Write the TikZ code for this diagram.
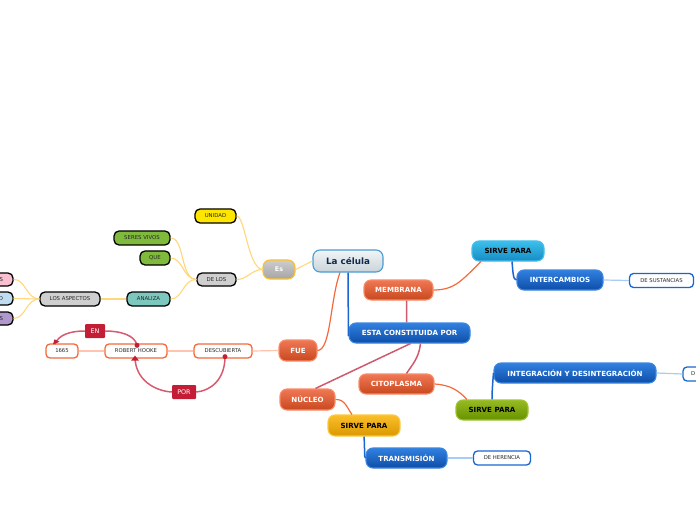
\documentclass[tikz,border=0pt]{standalone}
\usepackage{fontspec}
\setmainfont{DejaVu Sans}
\definecolor{cOrg}{HTML}{F4693A}
\definecolor{cBlu}{HTML}{1A66D0}
\definecolor{cCri}{HTML}{C41E36}
\definecolor{cYel}{HTML}{FFD77A}
\definecolor{rootD}{HTML}{4A9BD4}
\definecolor{rootT}{HTML}{F2F5F7}
\definecolor{rootB}{HTML}{C8D4DA}
\definecolor{rootX}{HTML}{0F2A4A}
\definecolor{orgD}{HTML}{F88C69}
\definecolor{orgT}{HTML}{F07855}
\definecolor{orgB}{HTML}{C8481E}
\definecolor{bluD}{HTML}{3C86E0}
\definecolor{bluT}{HTML}{3080E0}
\definecolor{bluB}{HTML}{0E4EA8}
\definecolor{cyaD}{HTML}{46BEEB}
\definecolor{cyaT}{HTML}{3CC0EC}
\definecolor{cyaB}{HTML}{168CC4}
\definecolor{grnD}{HTML}{A0C432}
\definecolor{grnT}{HTML}{96BA22}
\definecolor{grnB}{HTML}{689200}
\definecolor{ambD}{HTML}{FCC83C}
\definecolor{ambT}{HTML}{FBBF2A}
\definecolor{ambB}{HTML}{DA9800}
\definecolor{gryD}{HTML}{FCC02C}
\definecolor{gryT}{HTML}{CDCDCD}
\definecolor{gryB}{HTML}{A5A5A5}
\definecolor{txtS}{HTML}{282828}
\definecolor{fYel}{HTML}{FFE600}
\definecolor{fGrn}{HTML}{7FBA3C}
\definecolor{fGry}{HTML}{CFCFCF}
\definecolor{fTea}{HTML}{7CC8BE}
\definecolor{fPnk}{HTML}{F8C0D0}
\definecolor{fLbl}{HTML}{C0DCF0}
\definecolor{fPur}{HTML}{B098CC}
\definecolor{lCit}{HTML}{CD5A6E}
\definecolor{lPal}{HTML}{FFC3AF}
\definecolor{lQbl}{HTML}{A5CDF5}
\definecolor{lRel}{HTML}{D75A6E}
\tikzset{
  basebox/.style={rounded corners=7bp,inner sep=0pt,align=center},
  bigbox/.style={basebox,line width=1.1bp,font=\bfseries\fontsize{7.1}{8}\selectfont},
  rootbox/.style={bigbox,draw=rootD,top color=rootT,bottom color=rootB,text=rootX,font=\bfseries\fontsize{8.8}{10}\selectfont},
  orgbox/.style={bigbox,draw=orgD,top color=orgT,bottom color=orgB,text=white},
  blubox/.style={bigbox,draw=bluD,top color=bluT,bottom color=bluB,text=white},
  cyabox/.style={bigbox,draw=cyaD,top color=cyaT,bottom color=cyaB,text=black},
  grnbox/.style={bigbox,draw=grnD,top color=grnT,bottom color=grnB,text=black},
  ambbox/.style={bigbox,draw=ambD,top color=ambT,bottom color=ambB,text=black},
  grybox/.style={bigbox,draw=gryD,top color=gryT,bottom color=gryB,text=white},
  smallbox/.style={basebox,draw=black,line width=1.3bp,rounded corners=5bp,text=txtS,font=\fontsize{5.4}{6}\selectfont},
  whitebox/.style={basebox,fill=white,line width=1.3bp,rounded corners=4bp,text=txtS,font=\fontsize{5.3}{6}\selectfont},
  wo/.style={whitebox,draw=cOrg},
  wb/.style={whitebox,draw=cBlu},
  tagbox/.style={basebox,fill=cCri,rounded corners=1bp,text=white,font=\fontsize{6.4}{7}\selectfont},
  dims/.style 2 args={minimum width=#1bp,minimum height=#2bp},
  yl/.style={draw=cYel,line width=1.1bp},
  ol/.style={draw=cOrg,line width=1.2bp},
  bl/.style={draw=cBlu,line width=1.5bp},
  cl/.style={draw=lCit,line width=1.5bp},
  pl/.style={draw=lPal,line width=1.2bp},
  ql/.style={draw=lQbl,line width=1.2bp},
  rl/.style={draw=lRel,line width=1.5bp},
  reldot/.style={circle,fill=cCri,inner sep=0pt,minimum size=5bp}
}
\begin{document}
\begin{tikzpicture}[x=1bp,y=-1bp]
\useasboundingbox (0,0) rectangle (696,520);
\clip (0,0) rectangle (696,520);
% nodes
\node[rootbox,dims={70}{22}] (root) at (348,261) {La célula};
\node[grybox,dims={32}{19}] (es) at (279,269.5) {\fontsize{6.4}{7}\selectfont Es};
\node[smallbox,dims={41}{14},fill=fYel] (unidad) at (215.5,216) {UNIDAD};
\node[smallbox,dims={56}{14},fill=fGrn] (seres) at (142,238) {SERES VIVOS};
\node[smallbox,dims={30}{14},fill=fGrn] (que) at (155,258) {QUE};
\node[smallbox,dims={39}{13},fill=fGry] (delos) at (216.5,279.5) {DE LOS};
\node[smallbox,dims={43}{14},fill=fTea] (analiza) at (148.5,299) {ANALIZA};
\node[smallbox,dims={60}{14},fill=fGry] (aspectos) at (70,299) {LOS ASPECTOS};
\node[smallbox,dims={30}{13},fill=fPnk,text width=26bp,align=right] (pink) at (-2,279.5) {S\hspace*{8bp}};
\node[smallbox,dims={30}{13},fill=fLbl,text width=26bp,align=right] (lblue) at (-2,298.5) {D\hspace*{8bp}};
\node[smallbox,dims={30}{13},fill=fPur,text width=26bp,align=right] (purple) at (-2,318.5) {S\hspace*{8bp}};
\node[wo,dims={32}{14}] (y1665) at (62,351) {1665};
\node[wo,dims={62}{14}] (hooke) at (136,351) {ROBERT HOOKE};
\node[wo,dims={58}{14}] (desc) at (223,351) {DESCUBIERTA};
\node[orgbox,dims={38}{21}] (fue) at (298,350.5) {FUE};
\node[tagbox,dims={20}{14}] (en) at (95,331) {EN};
\node[tagbox,dims={24}{14}] (por) at (184,392) {POR};
\node[orgbox,dims={69}{20}] (memb) at (398.5,290) {MEMBRANA};
\node[blubox,dims={121}{20}] (esta) at (409.5,333) {ESTA CONSTITUIDA POR};
\node[orgbox,dims={55}{21}] (nuc) at (307.5,399.5) {NÚCLEO};
\node[orgbox,dims={75}{20}] (cito) at (396.5,384) {CITOPLASMA};
\node[ambbox,dims={72}{21}] (sirveA) at (364,425.5) {SIRVE PARA};
\node[blubox,dims={81}{20}] (trans) at (406.5,458) {TRANSMISIÓN};
\node[wb,dims={57}{14}] (her) at (502,458) {DE HERENCIA};
\node[grnbox,dims={72}{20}] (sirveG) at (492,410) {SIRVE PARA};
\node[blubox,dims={162}{20}] (integ) at (575,373) {INTEGRACIÓN Y DESINTEGRACIÓN};
\node[wb,dims={30}{14},text width=26bp,align=left] (dd) at (698,374) {\hspace*{6bp}D};
\node[cyabox,dims={72}{20}] (sirveC) at (508,251) {SIRVE PARA};
\node[blubox,dims={86}{20}] (inter) at (560,280) {INTERCAMBIOS};
\node[wb,dims={64}{14}] (sust) at (661.5,280.5) {DE SUSTANCIAS};
% connectors
\draw[yl] (es.east) -- (root.west);
\draw[yl] (es.west) to[out=180,in=0] (delos.east);
\draw[yl] (es.west) .. controls (248,268) and (245,216) .. (unidad.east);
\draw[yl] (delos.west) .. controls (180,279) and (185,238) .. (seres.east);
\draw[yl] (delos.west) .. controls (183,279) and (183,258) .. (que.east);
\draw[yl] (delos.west) .. controls (183,279) and (183,299) .. (analiza.east);
\draw[yl] (analiza.west) -- (aspectos.east);
\draw[yl] (aspectos.west) .. controls (26,299) and (26,279) .. (pink.east);
\draw[yl] (aspectos.west) -- (lblue.east);
\draw[yl] (aspectos.west) .. controls (26,299) and (26,318) .. (purple.east);
\draw[ol] ([xshift=-8bp]root.south) .. controls (330,300) and (331,350) .. (fue.east);
\draw[pl] (fue.west) -- (desc.east);
\draw[pl] (desc.west) -- (hooke.east);
\draw[pl] (hooke.west) -- (y1665.east);
\draw[bl] (root.south) -- ([yshift=-3bp]esta.west);
\draw[cl] ([xshift=-3bp]esta.north) -- ([xshift=8bp]memb.south);
\draw[cl] ([xshift=1bp]esta.south) -- ([xshift=8bp]nuc.north);
\draw[cl] ([xshift=11bp]esta.south) .. controls (419,358) and (412,365) .. ([xshift=10bp]cito.north);
\draw[ol] (memb.east) .. controls (455,290) and (462,280) .. ([xshift=-27bp]sirveC.south);
\draw[bl] ([xshift=4bp]sirveC.south) .. controls (513,272) and (513,280) .. (inter.west);
\draw[ql] (inter.east) -- (sust.west);
\draw[ol] (cito.east) .. controls (450,385) and (458,390) .. ([xshift=-25bp]sirveG.north);
\draw[bl] (sirveG.north) .. controls (492,390) and (493,380) .. (integ.west);
\draw[ql] (integ.east) -- (dd.west);
\draw[ol] (nuc.east) .. controls (345,399) and (347,408) .. ([xshift=-12bp]sirveA.north);
\draw[bl] (sirveA.south) .. controls (365,450) and (364,458) .. (trans.west);
\draw[ql] (trans.east) -- (her.west);
% relationship arrows
\draw[rl] (en.east) .. controls (120,331) and (135,335) .. ([xshift=1bp,yshift=-2bp]hooke.north);
\draw[rl] (en.west) .. controls (70,331) and (58,335) .. ([xshift=-7bp,yshift=-1bp]y1665.north);
\draw[rl] (por.east) .. controls (210,391) and (225,380) .. ([xshift=2bp,yshift=2bp]desc.south);
\draw[rl] (por.west) .. controls (155,391) and (135,380) .. ([xshift=-1bp,yshift=2bp]hooke.south);
\node[reldot] (d1) at ([xshift=1bp,yshift=-2bp]hooke.north) {};
\node[reldot] (d2) at ([xshift=2bp,yshift=2bp]desc.south) {};
\coordinate (t1) at ([xshift=-1bp,yshift=1bp]hooke.south);
\coordinate (t2) at ([xshift=-7bp,yshift=-1bp]y1665.north);
\fill[cCri] (t1) ++(-4,3) -- ++(4,-5) -- ++(4,5) -- cycle;
\fill[cCri] (t2) ++(-2,0) -- ++(1.5,-5) -- ++(5,2.5) -- cycle;
\end{tikzpicture}
\end{document}
